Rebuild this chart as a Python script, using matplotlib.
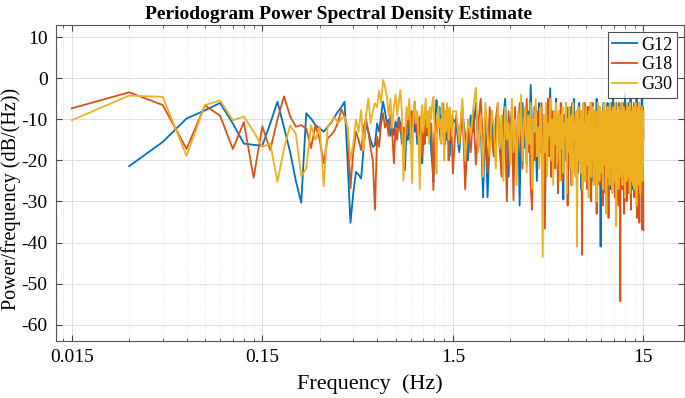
import numpy as np
import matplotlib
matplotlib.use("Agg")
import matplotlib.pyplot as plt
from matplotlib.ticker import FixedLocator, NullFormatter

plt.rcParams["font.family"] = ["Liberation Serif", "DejaVu Serif"]
plt.rcParams["axes.unicode_minus"] = False

# periodogram bins: 0.015 Hz resolution, every bin up to 1.5 Hz, every 4th above
bin_width = 0.015
bins_low = np.arange(1, 101)
bins_high = np.arange(104, 1001, 4)

# PSD (dB/Hz), bins 1..100
g12_low = [
    np.nan, -21.4, -15.5, -9.8, -7.8, -6.0, -11, -15.9, -16.2, -16.4,
    -11, -5.7, -12, -18, -25, -30.3, -8.5, -9.8, -11.4, -12.2,
    -13, -11.8, -10.8, -9.3, -8, -7, -5.7, -20, -35.2, -28,
    -22.8, -23.5, -24.4, -17, -11, -13, -15, -16.7, -16.3, -11,
    -13, -9, -5.7, -8, -11, -10, -14, -12, -13.8, -10.5,
    -12, -9.5, -11, -16, -12, -22.4, -14, -15, -10, -8.1,
    -12, -9.5, -13, -11, -16, -10, -12, -18, -20.7, -14,
    -16, -11, -13, -9, -15, -12, -18, -21, -25.2, -14,
    -9, -5.3, -8, -11, -7, -12, -9, -14, -11, -17.5,
    -13, -10, -15, -8, -12, -19, -14, -11, -13, -9.8,
]
g18_low = [
    -7.3, -3.4, -6.5, -17.2, -6.6, -9.1, -17.2, -10.7, -24.2, -11.7,
    -17.5, -10, -4.4, -9.3, -11.8, -11.4, -12.2, -17, -11.4, -15,
    -20.7, -14.6, -13.8, -12.6, -10.6, -7.5, -9.3, -12, -26.8, -18,
    -13, -15, -17.5, -12, -9.8, -13, -17, -20, -32, -14.2,
    -16.7, -11, -8.5, -12, -10.6, -14, -9, -13, -20.7, -12,
    -15, -10, -13, -11, -15.9, -12, -14, -9.3, -11, -16,
    -8, -12, -5.7, -10, -14, -11, -9.3, -13, -19, -12,
    -15.9, -10, -14, -12, -9.3, -13, -11, -18, -27.2, -15,
    -11, -13, -10, -8.9, -12, -15, -10, -14, -6.1, -11,
    -16, -12, -9, -13, -20, -11, -15, -10, -17, -23.2,
]
g30_low = [
    -10.2, -4.2, -4.5, -18.9, -6.5, -5.4, -10.2, -9.3, -13, -16.7,
    -15.9, -25.2, -17, -11.5, -13.6, -23.8, -22, -11.4, -15, -11.8,
    -26.3, -11.8, -10.5, -9.5, -11, -9.8, -9.3, -12, -20, -16,
    -10, -13, -7.7, -17.5, -9, -4.9, -11, -8, -6.1, -7,
    -3, -6, -0.4, -2, -4.5, -9, -5, -12, -7, -4,
    -9, -6, -2.8, -8, -25, -15.9, -7, -10, -5, -12,
    -25.6, -9, -6, -11, -8, -14, -27, -10, -6.5, -13,
    -9, -5, -12, -8, -16, -7, -10, -6, -4.5, -11,
    -15, -23.2, -9, -7, -12, -10, -16, -6, -11, -20,
    -8, -13, -6, -10, -15, -7, -12, -9, -14, -8,
]

# PSD (dB/Hz) above 1.5 Hz, estimated from the dense band
g12_high = [
    -11, -18, -8, -14, -20, -9, -13, -6, -17, -11, -29, -10, -29, -14, -8,
    -19, -12, -7, -16, -22, -10, -5, -15, -24, -11, -8, -18, -13, -20, -9,
    -31, -12, -6, -17, -10, -21, -8, -14, -1.6, -12, -19, -7, -15, -25, -10,
    -6, -18, -12, -22, -9, -32, -14, -7, -16, -11, -2.4, -13, -20, -9, -17,
    -12, -5, -19, -10, -24, -8, -15, -11, -21, -29.5, -9, -16, -6, -13, -22,
    -10, -18, -7, -14, -26, -9, -12, -5, -17, -20, -11, -8, -23, -13, -6,
    -15, -11, -27, -8, -13, -19, -6, -16, -10, -22, -12, -7, -18, -14, -9,
    -21, -11, -6, -17, -13, -25, -9, -15, -8, -19, -12, -5, -16, -23, -10,
    -14, -7, -18, -41, -11, -9, -20, -13, -6, -16, -24, -10, -8, -15, -12,
    -19, -6, -13, -22, -9, -16, -11, -27, -7, -14, -10, -18, -5, -21, -12,
    -8, -17, -13, -24, -6, -15, -10, -20, -9, -30, -12, -7, -18, -14, -11,
    -22, -6, -16, -9, -19, -12, -25, -8, -14, -3.7, -17, -11, -28, -7, -15,
    -10, -20, -6, -13, -18, -9, -24, -11, -5, -16, -12, -21, -8, -14, -27,
    -9, -15, -6, -19, -12, -23, -8, -17, -10, -5, -14, -30, -11, -7, -18,
    -13, -6, -21, -9, -16, -25, -8, -12, -19, -5, -14, -22, -10, -7, -15,
]
g18_high = [
    -9, -15, -6, -27, -12, -18, -8, -21, -11, -5, -16, -13, -23, -7, -14,
    -19, -10, -6, -17, -24, -9, -13, -30, -8, -15, -11, -29.7, -7, -20, -12,
    -6, -16, -22, -9, -14, -5, -18, -11, -26, -32, -15, -20, -7, -13, -8,
    -10, -17, -6, -21, -12, -36.6, -9, -15, -5, -19, -13, -24, -8, -16, -11,
    -22, -7, -14, -28, -10, -18, -6, -13, -25, -9, -16, -11, -20, -7, -31,
    -12, -8, -19, -14, -26, -6, -17, -10, -23, -9, -15, -29, -11, -7, -18,
    -13, -21, -8, -43, -16, -10, -25, -6, -14, -19, -9, -27, -12, -7, -22,
    -15, -9, -30, -11, -18, -6, -24, -13, -8, -20, -16, -33, -10, -7, -19,
    -12, -26, -8, -15, -21, -9, -17, -31, -11, -6, -23, -14, -28, -10, -18,
    -7, -20, -13, -34, -9, -16, -24, -11, -6, -19, -27, -12, -8, -22, -15,
    -10, -29, -7, -17, -13, -25, -9, -20, -12, -31, -6, -16, -22, -54.3, -11,
    -8, -19, -14, -27, -10, -6, -21, -33, -12, -17, -9, -24, -13, -30, -7,
    -16, -11, -23, -8, -28, -14, -6, -20, -12, -32, -9, -17, -25, -10, -15,
    -7, -22, -13, -29, -9, -18, -11, -26, -6, -15, -34, -12, -20, -8, -24,
    -14, -9, -35.2, -11, -19, -7, -27, -13, -22, -10, -36.8, -16, -8, -21, -37,
]
g30_high = [
    -8, -16, -5, -20, -10, -14, -7, -2.3, -18, -9, -24, -6, -13, -19, -8,
    -12, -22, -6, -17, -9, -25, -7, -15, -11, -21, -5, -18, -10, -26, -8,
    -14, -4, -20, -11, -7, -23, -9, -16, -6, -27, -10, -13, -5, -19, -12,
    -22, -7, -15, -43.5, -9, -18, -6, -24, -11, -14, -5, -20, -10, -26, -8,
    -16, -6, -21, -12, -8, -25, -9, -17, -7, -23, -11, -14, -6, -28, -10,
    -18, -7, -22, -12, -9, -26, -6, -15, -11, -24, -8, -41, -13, -7, -20,
    -10, -23, -8, -16, -27, -6, -19, -11, -25, -7, -14, -21, -9, -29, -8,
    -17, -6, -24, -12, -20, -7, -26, -10, -15, -8, -22, -13, -30, -6, -18,
    -9, -25, -7, -19, -12, -23, -8, -27, -10, -16, -6, -21, -11, -33, -8,
    -20, -7, -24, -13, -9, -26, -6, -18, -11, -22, -8, -28, -12, -7, -19,
    -10, -25, -6, -17, -36, -8, -22, -12, -9, -27, -7, -19, -13, -24, -8,
    -21, -6, -16, -26, -9, -23, -7, -18, -12, -29, -8, -20, -10, -25, -6,
    -17, -11, -24, -7, -22, -9, -28, -6, -19, -13, -25, -8, -21, -10, -26,
    -7, -18, -12, -27, -8, -23, -6, -20, -11, -31, -9, -24, -13, -7, -22,
    -10, -26, -6, -19, -12, -28, -8, -23, -9, -17, -7, -25, -11, -21, -8,
]

names = ["G12", "G18", "G30"]
colors = ["#0072BD", "#D95319", "#EDB120"]
x_ticks = [0.015, 0.15, 1.5, 15]
y_ticks = [-60, -50, -40, -30, -20, -10, 0, 10]

freq = np.concatenate([bins_low, bins_high]) * bin_width
series = [g12_low + g12_high, g18_low + g18_high, g30_low + g30_high]

fig = plt.figure(figsize=(6.85, 3.98), dpi=100)
ax = fig.add_axes([0.0818, 0.1432, 0.9168, 0.794])

for name, vals, c in zip(names, series, colors):
    ax.plot(freq, vals, color=c, lw=1.3, label=name)

ax.set_xscale("log")
ax.set_xlim(0.0124, 24.5)
ax.set_ylim(-64, 13)
ax.set_xticks(x_ticks)
ax.set_xticklabels([f"{t:g}" for t in x_ticks])
minor = np.outer(10.0 ** np.arange(-3, 2), np.arange(2, 10) * 1.5).ravel()
ax.xaxis.set_minor_locator(FixedLocator(minor))
ax.xaxis.set_minor_formatter(NullFormatter())
ax.set_yticks(y_ticks)

ax.grid(True, which="major", color="#dedede", lw=0.7)
ax.grid(True, which="minor", axis="x", color="#e2e2e2", lw=0.6, ls=":")
ax.set_axisbelow(True)
ax.tick_params(which="both", direction="in", top=True, right=True,
               labelsize=14, color="#444444")
ax.tick_params(which="major", length=4)
ax.tick_params(which="minor", length=2)
ax.tick_params(axis="y", pad=6)
ax.tick_params(axis="x", pad=6)
for sp in ax.spines.values():
    sp.set_color("#555555")
    sp.set_linewidth(0.8)

ax.set_title("Periodogram Power Spectral Density Estimate",
             fontsize=14, fontweight="bold", pad=4, x=0.45)
ax.set_xlabel("Frequency  (Hz)", fontsize=16, labelpad=6)
ax.set_ylabel("Power/frequency (dB/(Hz))", fontsize=14.5)
ax.yaxis.set_label_coords(-0.056, 0.45)

leg = ax.legend(loc="upper right", fontsize=13, fancybox=False,
                handlelength=1.4, handletextpad=0.2, borderpad=0.25,
                labelspacing=0.15, borderaxespad=0.4)
leg.get_frame().set_edgecolor("#222222")
leg.get_frame().set_linewidth(0.8)

fig.savefig("out.png", dpi=100)
